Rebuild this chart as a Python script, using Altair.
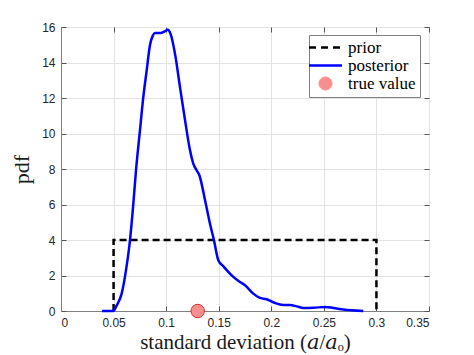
import altair as alt
import pandas as pd

# posterior pdf curve
post_x = [0.039, 0.0498, 0.053, 0.0577, 0.0618, 0.0656, 0.0688, 0.0713, 0.0751, 0.0783,
          0.0815, 0.0846, 0.0872, 0.0894, 0.0948, 0.0985, 0.1015, 0.1043, 0.1084, 0.1132,
          0.118, 0.1227, 0.1258, 0.129, 0.1316, 0.137, 0.1417, 0.1455, 0.1496, 0.1544,
          0.1639, 0.1702, 0.175, 0.1829, 0.1886, 0.1956, 0.2035, 0.2115, 0.2178, 0.2242,
          0.2305, 0.24, 0.2511, 0.259, 0.2685, 0.2875]
post_y = [0.0, 0.0, 0.32, 0.98, 2.29, 3.98, 6.05, 7.9, 10.18, 12.06,
          13.56, 14.97, 15.5, 15.66, 15.66, 15.75, 15.85, 15.6, 14.5, 12.6,
          10.74, 9.05, 8.3, 7.93, 7.65, 6.24, 4.92, 3.98, 2.86, 2.52,
          1.92, 1.63, 1.45, 0.98, 0.75, 0.66, 0.45, 0.34, 0.34, 0.26,
          0.17, 0.18, 0.23, 0.17, 0.08, 0.0]

# uniform prior
prior_x = [0.05, 0.05, 0.3, 0.3]
prior_y = [0.0, 4.0, 4.0, 0.0]

# true value
true_x = [0.13]
true_y = [0.0]

series_names = ["prior", "posterior", "true value"]
series_colors = ["#000000", "#0000ff", "#f98e8e"]

x_ticks = [0, 0.05, 0.1, 0.15, 0.2, 0.25, 0.3, 0.35]
y_ticks = [0, 2, 4, 6, 8, 10, 12, 14, 16]

post_df = pd.DataFrame({"x": post_x, "y": post_y, "idx": range(len(post_x)), "series": "posterior"})
prior_df = pd.DataFrame({"x": prior_x, "y": prior_y, "idx": range(len(prior_x)), "series": "prior"})
true_df = pd.DataFrame({"x": true_x, "y": true_y, "series": "true value"})

W, H = 368, 284
xscale = alt.Scale(domain=[0, 0.35], nice=False, zero=False)
yscale = alt.Scale(domain=[0, 16], nice=False, zero=False)

legend = alt.Legend(
    orient="none", legendX=248, legendY=8, title=None,
    strokeColor="#7f7f7f", fillColor="white", padding=4,
    symbolType={"expr": "datum.value === 'true value' ? 'circle' : 'stroke'"},
    symbolSize={"expr": "datum.value === 'true value' ? 170 : 1089"},
    symbolOffset=4,
    symbolDash={"expr": "datum.value === 'prior' ? [7, 5] : [1, 0]"},
    symbolFillColor={"expr": "datum.value === 'true value' ? '#f98e8e' : 'transparent'"},
    symbolStrokeColor={"expr": "datum.value === 'prior' ? '#000000' : (datum.value === 'posterior' ? '#0000ff' : '#d92b2b')"},
    symbolStrokeWidth={"expr": "datum.value === 'true value' ? 1 : 2.5"},
    symbolOpacity=1,
    labelFont="Liberation Serif", labelFontSize=17, labelColor="#000000",
    labelOffset=14, rowPadding=0,
)
color = alt.Color("series:N", scale=alt.Scale(domain=series_names, range=series_colors), legend=legend)

main_x = alt.Axis(orient="bottom", values=x_ticks, format="~g", tickSize=0, labelPadding=6,
                  labelFont="Liberation Sans", labelFontSize=12, labelColor="#262626",
                  title="standard deviation (𝑎/𝑎ₒ)", titleFont="Liberation Serif, DejaVu Serif", titleFontSize=21,
                  titleFontWeight="normal", titleColor="#1a1a1a", titlePadding=3,
                  grid=True, gridColor="#e3e3e3", domainColor="#808080")
main_y = alt.Axis(orient="left", values=y_ticks, tickSize=0, labelPadding=6,
                  labelFont="Liberation Sans", labelFontSize=12, labelColor="#262626",
                  title="pdf", titleFont="Liberation Serif", titleFontSize=22,
                  titleFontWeight="normal", titleColor="#1a1a1a", titlePadding=8,
                  grid=True, gridColor="#e3e3e3", domainColor="#808080")

def tick_axis(orient, values, offset):
    return alt.Axis(orient=orient, values=values, offset=offset, labels=False, grid=False,
                    domain=False, tickSize=5, tickColor="#555555", title=None)

posterior = alt.Chart(post_df).mark_line(strokeWidth=2.5, interpolate="monotone").encode(
    x=alt.X("x:Q", scale=xscale, axis=main_x),
    y=alt.Y("y:Q", scale=yscale, axis=main_y),
    order=alt.Order("idx:Q"),
    color=color,
)
prior = alt.Chart(prior_df).mark_line(strokeWidth=2.5, strokeDash=[7, 4]).encode(
    x=alt.X("x:Q", scale=xscale, axis=tick_axis("top", x_ticks, -H)),
    y=alt.Y("y:Q", scale=yscale, axis=tick_axis("right", y_ticks, -W)),
    order=alt.Order("idx:Q"),
    color=color,
)
truth = alt.Chart(true_df).mark_point(filled=True, size=180, stroke="#d92b2b", strokeWidth=1,
                                      opacity=1, fillOpacity=1).encode(
    x=alt.X("x:Q", scale=xscale, axis=tick_axis("bottom", x_ticks, -H)),
    y=alt.Y("y:Q", scale=yscale, axis=tick_axis("left", y_ticks, -W)),
    color=color,
)

chart = alt.layer(prior, posterior, truth).resolve_axis(x="independent", y="independent").properties(
    width=W, height=H,
    autosize=alt.AutoSizeParams(type="none"),
    padding={"left": 61, "top": 27, "right": 45, "bottom": 44},
    background="white",
).configure_view(stroke="#808080", strokeWidth=1).configure_legend(
    labelFont="Liberation Serif", labelFontSize=17, labelColor="#000000"
)

chart.save("out.html", embed_options={"renderer": "svg", "actions": False})
